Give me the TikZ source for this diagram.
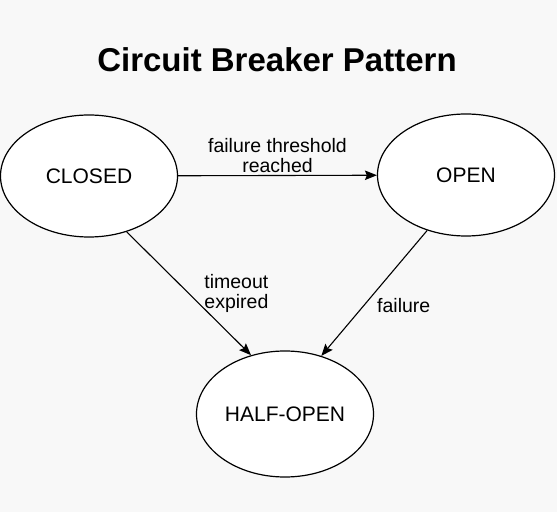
\documentclass[tikz,border=0pt]{standalone}
\usepackage{fontspec}
\setmainfont{Liberation Sans}
\usetikzlibrary{shapes.geometric,arrows.meta}
\definecolor{bgcol}{RGB}{248,248,248}
\tikzset{
  state/.style={ellipse, draw, line width=1.2pt, fill=white, minimum width=177pt,
    minimum height=122pt, inner sep=0pt, font=\fontsize{21}{24}\selectfont},
  edgelabel/.style={font=\fontsize{19.5}{22}\selectfont, align=center, inner sep=2pt}
}
\begin{document}
\begin{tikzpicture}[x=1pt, y=1pt, >={Stealth[length=12pt, width=9.5pt, inset=2pt]}]
        \fill [bgcol] (0,0) rectangle (557,512);
        \useasboundingbox (0,0) rectangle (557,512);
        \node (title) at (277,452) {\fontsize{33}{38}\selectfont\bfseries Circuit Breaker Pattern};
        % states
        \node [state] (closed) at (89,336) {CLOSED};
        \node [state] (open) at (466,337) {OPEN};
        \node [state, minimum height=126pt] (halfopen) at (285,98) {HALF-OPEN};
        % transitions
        \draw [->, line width=1.1pt] (closed) -- node[edgelabel, above]{failure threshold\\[-2pt]reached} (open);
        \draw [->, line width=1.1pt] (closed.-56) -- node[edgelabel, right=13pt, align=left]{timeout\\[-2pt]expired} (halfopen.120);
        \draw [->, line width=1.1pt] (open.235) -- node[edgelabel, pos=0.6, right=11pt]{failure} (halfopen.58);
\end{tikzpicture}
\end{document}
